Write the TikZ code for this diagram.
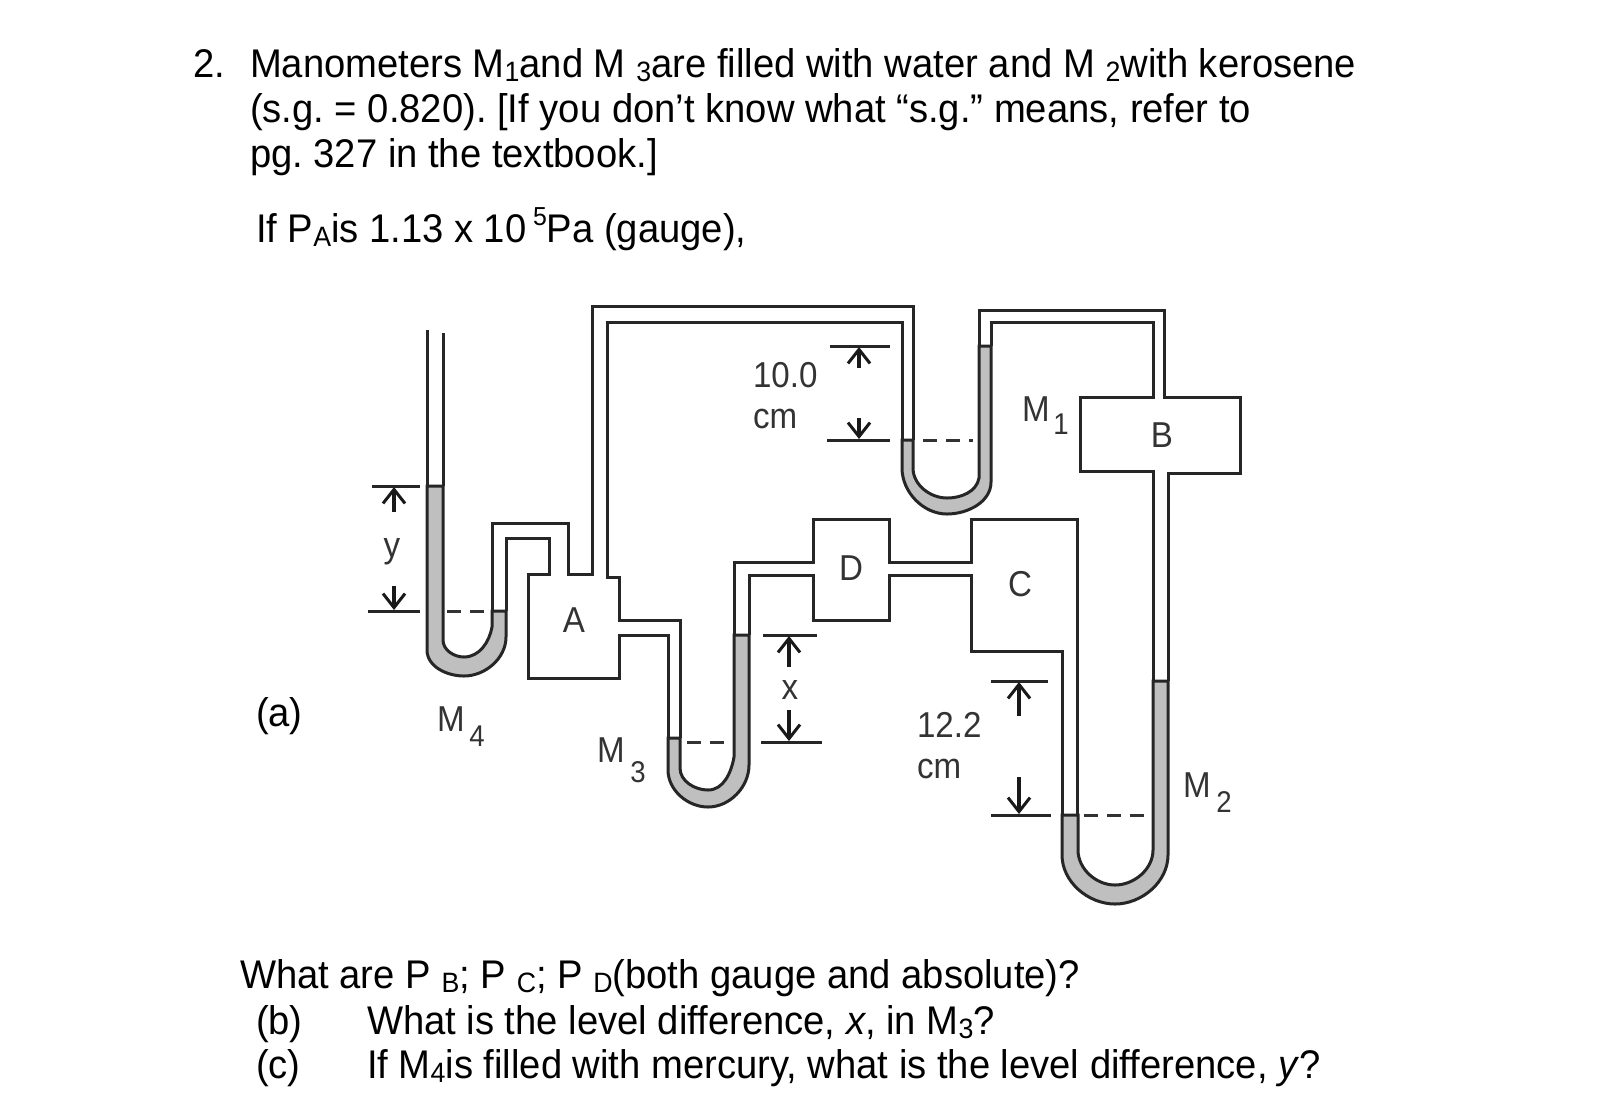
\documentclass[tikz,border=0pt]{standalone}
\usepackage{fontspec}
\setmainfont{Liberation Sans}
\newfontfamily\bodyfont[FakeStretch=0.955]{Liberation Sans}
\newfontfamily\labfont[FakeStretch=0.92]{Liberation Sans}
\usetikzlibrary{arrows.meta}
\newcommand{\sbs}[1]{\raisebox{-0.12em}{\fontsize{14}{14}\selectfont #1}}
\newcommand{\sps}[1]{\raisebox{0.42em}{\fontsize{13}{13}\selectfont #1}}
\tikzset{
  txt/.style={anchor=base west,inner sep=0pt,outer sep=0pt,font=\frenchspacing\bodyfont\fontsize{20}{20}\selectfont,text=black},
  pipe/.style={draw=black!85,line width=1.5pt,line join=miter},
  fluid/.style={fill=black!25,draw=black!85,line width=1.5pt},
  lab/.style={inner sep=0pt,outer sep=0pt,text=black!80,font=\labfont\fontsize{18}{18}\selectfont},
  sublab/.style={inner sep=0pt,outer sep=0pt,text=black!80,font=\labfont\fontsize{15}{15}\selectfont},
  dimline/.style={draw=black!85,line width=1.5pt},
  dimarrow/.style={draw=black!90,line width=1.6pt,-{Straight Barb[length=7pt,width=11pt,line width=1.5pt]}},
  levelline/.style={draw=black!80,line width=1.5pt,dash pattern=on 7pt off 4.5pt}
}
\begin{document}
\begin{tikzpicture}[x=0.5pt,y=-0.5pt,looseness=0.95]
\useasboundingbox (0,0) rectangle (1604,1100);
% fluids
\path[fluid] (427,486)--(443,486)--(443,640) to[out=-90,in=180] (464,657) to[out=0,in=-100] (492,627)--(492,611)--(506,611)--(506,637) to[out=-90,in=0] (464,676) to[out=180,in=-90] (427,650)--cycle;
\path[fluid] (734,635)--(749,635)--(749,765) to[out=-90,in=0] (708,807) to[out=180,in=-90] (668,770)--(668,738)--(680,738)--(680,768) to[out=-90,in=180] (708,790) to[out=0,in=-100] (734,757)--cycle;
\path[fluid] (902,440)--(913,440)--(913,468) to[out=-90,in=180] (947,498) to[out=0,in=-100] (979,478)--(979,346)--(991,346)--(991,482) to[out=-90,in=0] (947,514) to[out=180,in=-90] (902,468)--cycle;
\path[fluid] (1062,815)--(1078,815)--(1078,850) to[out=-90,in=180] (1115,885) to[out=0,in=-90] (1153,850)--(1153,681)--(1168,681)--(1168,855) to[out=-90,in=0] (1115,904) to[out=180,in=-90] (1062,855)--cycle;
% M4 open tube
\draw[pipe] (427,330)--(427,486);
\draw[pipe] (443,333)--(443,486);
% pipe from M4 over to A and outer top pipe to M1
\draw[pipe] (492,611)--(492,523)--(568,523)--(568,574)--(592,574)--(592,306)--(913,306)--(913,440);
\draw[pipe] (506,611)--(506,538)--(549,538)--(549,574)--(528,574)--(528,678)--(619,678)--(619,635)--(668,635)--(668,738);
\draw[pipe] (902,440)--(902,322)--(607,322)--(607,577)--(619,577)--(619,620)--(680,620)--(680,738);
% M1 to B
\draw[pipe] (979,346)--(979,310)--(1164,310)--(1164,397)--(1240,397)--(1240,473)--(1168,473)--(1168,681);
\draw[pipe] (991,346)--(991,322)--(1153,322)--(1153,397)--(1080,397)--(1080,471)--(1153,471)--(1153,681);
% M3 to D to C to M2
\draw[pipe] (734,635)--(734,562)--(813,562)--(813,519)--(889,519)--(889,562)--(971,562)--(971,519)--(1077,519)--(1077,815);
\draw[pipe] (749,635)--(749,575)--(813,575)--(813,620)--(889,620)--(889,575)--(971,575)--(971,651)--(1062,651)--(1062,815);
% dimension lines
\draw[dimline] (372,486)--(420,486);
\draw[dimline] (368,611)--(420,611);
\draw[dimarrow] (394,512)--(394,487);
\draw[dimarrow] (394,586)--(394,610);
\draw[levelline] (447,611)--(484,611);
\draw[dimline] (830,346)--(890,346);
\draw[dimline] (827,440)--(890,440);
\draw[dimarrow] (859,368)--(859,347);
\draw[dimarrow] (859,418)--(859,439);
\draw[levelline] (923,440)--(973,440);
\draw[dimline] (763,635)--(817,635);
\draw[dimline] (761,742)--(822,742);
\draw[dimarrow] (789,667)--(789,636);
\draw[dimarrow] (789,710)--(789,741);
\draw[levelline] (687,742)--(727,742);
\draw[dimline] (991,681)--(1048,681);
\draw[dimline] (991,815)--(1051,815);
\draw[dimarrow] (1019,716)--(1019,682);
\draw[dimarrow] (1019,777)--(1019,814);
\draw[levelline] (1084,815)--(1147,815);
% labels
\node[lab] (la) at (574,620) {A};
\node[lab] (lb) at (1162,435) {B};
\node[lab] (lc) at (1020,584) {C};
\node[lab] (ld) at (851,568) {D};
\node[lab] (ly) at (392,552) {y};
\node[lab] (lx) at (790,690) {x};
\node[lab,anchor=west] (ten) at (753,375) {10.0};
\node[lab,anchor=west] (tencm) at (753,419) {cm};
\node[lab,anchor=west] (twelve) at (917,725) {12.2};
\node[lab,anchor=west] (twelvecm) at (917,769) {cm};
\node[lab] (m1) at (1036,409) {M};
\node[sublab] (m1s) at (1061,424) {1};
\node[lab] (m2) at (1197,785) {M};
\node[sublab] (m2s) at (1224,802) {2};
\node[lab] (m3) at (611,750) {M};
\node[sublab] (m3s) at (638,772) {3};
\node[lab] (m4) at (451,719) {M};
\node[sublab] (m4s) at (477,736) {4};
% text
\node[txt] (t0) at (193,77) {2.};
\node[txt] (t1) at (250,77) {Manometers M\sbs{1}and M \sbs{3}are filled with water and M \sbs{2}with kerosene};
\node[txt] (t2) at (250,122) {(s.g. = 0.820). [If you don’t know what “s.g.” means, refer to};
\node[txt] (t3) at (250,167) {pg. 327 in the textbook.]};
\node[txt] (t4) at (256,242) {If P\sbs{A}is 1.13 x 10 \hspace{-0.1em}\sps{5}Pa (gauge),};
\node[txt] (t5) at (256,726) {(a)};
\node[txt] (t6) at (240,988) {What are P \sbs{B}; P \sbs{C}; P \sbs{D}(both gauge and absolute)?};
\node[txt] (t7) at (256,1034) {(b)};
\node[txt] (t8) at (367,1034) {What is the level difference, \textit{x}, in M\sbs{3}?};
\node[txt] (t9) at (256,1078) {(c)};
\node[txt] (t10) at (367,1078) {If M\sbs{4}is filled with mercury, what is the level difference, \textit{y}?};
\end{tikzpicture}
\end{document}
